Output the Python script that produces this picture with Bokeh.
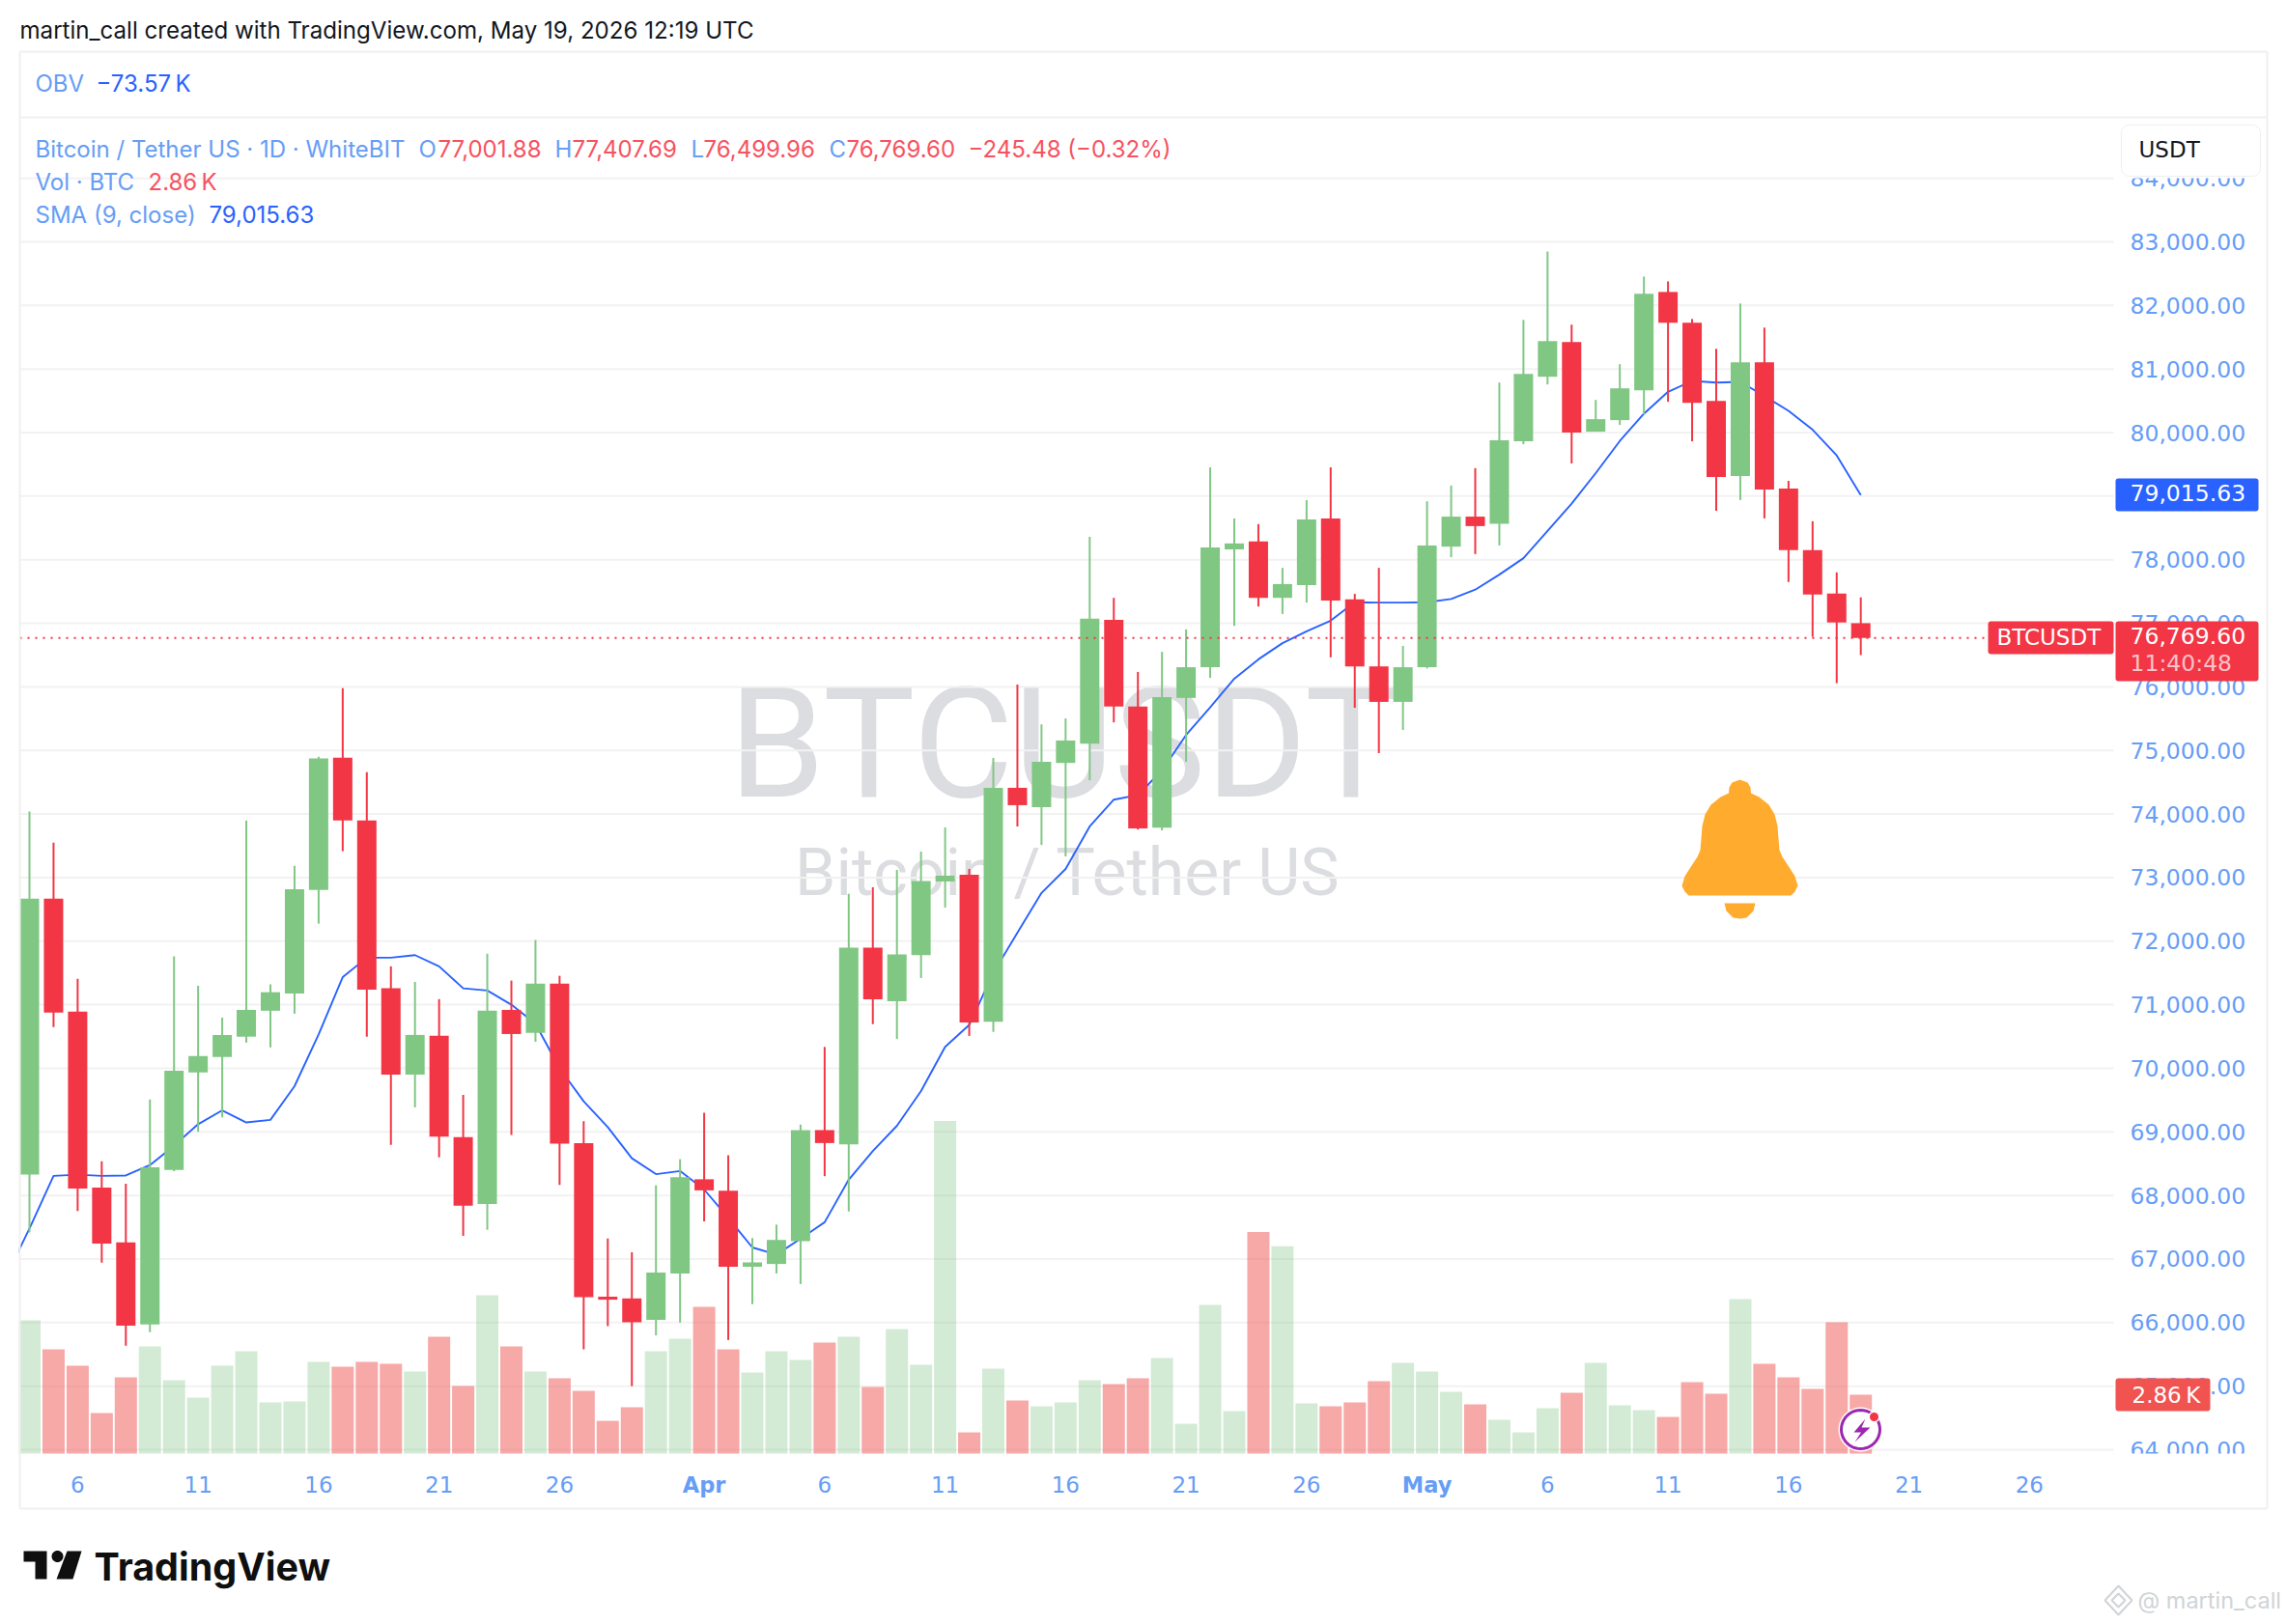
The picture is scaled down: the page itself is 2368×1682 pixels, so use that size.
import math
from bokeh.plotting import figure
from bokeh.models import (ColumnDataSource, FixedTicker, LinearAxis, NumeralTickFormatter, Label,
                          BoxAnnotation, PolyAnnotation, Range1d)
from bokeh.embed import file_html
from bokeh.resources import INLINE

# ---- data (daily BTC/USDT candles, Mar 4 .. May 19) ----
opens = [68327,72669,70892,68124,67262,65970,68402,69935,70179,70498,70905,71177,72805,74887,73897,71258,69901,70512,68917,67866,
         70919,70559,71333,68823,66407,66380,66041,66773,68254,68074,66878,66922,67281,69028,68805,71897,71055,71779,72939,73046,
         70732,74412,74108,74803,75106,77053,75689,73786,75826,76309,78163,78287,77400,77599,78647,77376,76322,75764,76309,78206,
         78678,78564,79863,80878,81424,80014,80196,80666,82212,81727,80499,79317,81105,79120,78150,77468,77001.88]
highs = [74039,73551,71407,68538,68185,69508,71760,71299,70797,73897,71319,73185,74901,75980,74657,71604,71360,71088,69582,71801,
         71380,72018,71455,69168,67323,67106,68161,68570,69301,68632,67331,67541,69115,70336,72746,72848,73121,73410,73789,73137,
         74882,76036,75410,75503,78361,77400,76235,76551,76904,79453,78647,78560,77872,78938,79453,77462,77872,76644,78919,79167,
         79440,80787,81772,82848,81697,80514,81075,82454,82378,81787,81318,82030,81651,79241,78605,77801,77407.69]
lows = [67418,70647,67757,66943,65635,65850,68380,68999,69230,70403,70329,70858,72276,73415,70498,68795,69386,68599,67364,67459,
        68951,70417,68165,65579,65944,65000,65800,65999,67591,65726,66290,66773,66606,68303,67746,70695,70460,71420,72529,70509,
        70574,73804,73513,73333,74530,75441,73755,73742,74821,76142,76960,77264,77146,77326,76464,75671,74958,75323,76290,78039,
        78089,78225,79817,80757,79514,80120,80120,80287,80484,79863,78771,78938,78650,77650,76786,76058,76499.96]
closes = [72669,70878,68110,67242,65953,68443,69962,70193,70525,70919,71197,72818,74874,73897,71238,69901,70525,68924,67839,70905,
          70539,71333,68816,66400,66360,66005,66787,68285,68080,66878,66947,67300,69028,68824,71897,71085,71792,72944,73030,70720,
          74412,74139,74821,75156,77072,75689,73773,75838,76309,78194,78256,77400,77617,78634,77357,76322,75764,76309,78225,78678,
          78529,79878,80924,81439,79999,80211,80696,82182,81727,80469,79302,81105,79105,78150,77453,77013,76769.60]
volumes = [6.47,5.06,4.27,1.97,3.70,5.20,3.56,2.72,4.27,4.97,2.48,2.53,4.45,4.22,4.45,4.36,3.99,5.67,3.28,7.69,
           5.20,3.99,3.66,3.05,1.59,2.25,4.97,5.58,7.13,5.06,3.94,4.97,4.55,5.39,5.67,3.24,6.05,4.31,16.15,1.03,
           4.13,2.58,2.30,2.48,3.56,3.38,3.66,4.64,1.45,7.22,2.06,10.76,10.07,2.44,2.30,2.48,3.52,4.41,3.99,3.00,
           2.39,1.64,1.03,2.20,2.95,4.41,2.34,2.11,1.78,3.47,2.91,7.50,4.36,3.70,3.14,6.38,2.86]
# SMA 9; the first value belongs to the day before the first visible candle
sma = [66699,67479,68307,68327,68307,68314,68477,68782,69121,69338,69148,69189,69718,70532,71434,71740,71740,71780,71604,71258,71224,
       71000,70702,70000,69481,69074,68585,68335,68384,68093,67647,67182,67070,67318,67579,68248,68700,69096,69642,70336,70683,
       71501,72133,72758,73135,73804,74226,74300,74685,75243,75677,76129,76433,76687,76873,77041,77332,77326,77326,77332,77382,
       77529,77766,78024,78453,78883,79363,79868,80297,80641,80813,80787,80797,80575,80343,80045,79641,79015.63]
price_ticks = [64000 + 1000 * i for i in range(21)]
date_tick_pos = [2, 7, 12, 17, 22, 28, 33, 38, 43, 48, 53, 58, 63, 68, 73, 78, 83]
date_tick_txt = ["6", "11", "16", "21", "26", "Apr", "6", "11", "16", "21", "26", "May", "6", "11", "16", "21", "26"]
last_price = 76769.60

GREEN, RED = "#81C784", "#F23645"
AXIS_BLUE, LEG_BLUE, BLUE = "#669DF6", "#669DF6", "#2962FF"
GRID = "#F2F2F2"
FONT = "Inter"
SCALE_FONT = "DejaVu Sans"
SCALE_SIZE = 23.5

# ---- the frame fills the canvas; the pane is placed inside it, in reference pixels ----
W, H = 2368, 1682
FL, FR, FT, FB = 20, 2188, 121, 1505
PX = 24.95                 # pixels per day
PXV = 1251 / 19000         # pixels per USDT
VPX = 61 / 2.86            # pixels per thousand BTC
pane_left = (FL - 30) / PX
pane_right = (FR - 30) / PX
pane_bottom = 83000 - (FB - 250) / PXV

p = figure(width=W, height=H, output_backend="svg", toolbar_location=None,
           x_range=Range1d((0 - 30) / PX, (W - 30) / PX),
           y_range=Range1d(83000 - (H - 250) / PXV, 83000 + 250 / PXV),
           x_axis_location=None, y_axis_location=None,
           min_border=0, outline_line_color=None, background_fill_color="white", border_fill_color="white")
p.xgrid.visible = False
p.ygrid.visible = False

UNITS = "canvas"

def txt(x, y, s, color=LEG_BLUE, size=24, align="left", bold=False, font=FONT, level="annotation"):
    p.add_layout(Label(x=x, y=y, x_units=UNITS, y_units=UNITS, text=s, text_color=color,
                       text_font_size=f"{size}px", text_font=font, text_align=align, text_baseline="middle",
                       text_font_style="bold" if bold else "normal", level=level))

def box(l, r, t, b, color, line=None, radius=0):
    p.add_layout(BoxAnnotation(left=l, right=r, top=t, bottom=b,
                               left_units=UNITS, right_units=UNITS, top_units=UNITS, bottom_units=UNITS,
                               fill_color=color, fill_alpha=1.0, line_color=line, line_alpha=1.0 if line else 0.0,
                               border_radius=radius, editable=False))

def poly(pts, color, line=None, lw=1):
    p.add_layout(PolyAnnotation(xs=[a for a, _ in pts], ys=[b for _, b in pts],
                                xs_units=UNITS, ys_units=UNITS, fill_color=color, fill_alpha=1.0,
                                line_color=line, line_width=lw, line_alpha=1.0 if line else 0.0))

# symbol watermark under everything
txt(1100, 770, "BTCUSDT", "#DCDDE0", 160, "center", font="Roboto", level="underlay")
txt(1105, 903, "Bitcoin / Tether US", "#DCDDE0", 68, "center", font="Roboto", level="underlay")

# horizontal price grid, confined to the pane
p.segment(x0=pane_left, x1=pane_right, y0=price_ticks, y1=price_ticks, line_color=GRID, line_width=2)

# ---- volume on its own scale, sharing the pane ----
idx = list(range(len(closes)))
up = [c >= o for o, c in zip(opens, closes)]
body_col = [GREEN if u else RED for u in up]
vol_col = ["#81C784" if u else "#EF5350" for u in up]
vol_alpha = [0.35 if u else 0.5 for u in up]
src = ColumnDataSource(dict(x=idx, o=opens, h=highs, l=lows, c=closes, v=volumes, col=body_col,
                            vcol=vol_col, va=vol_alpha,
                            top=[max(a, b) for a, b in zip(opens, closes)],
                            bot=[min(a, b) for a, b in zip(opens, closes)]))
p.extra_y_ranges["vol"] = Range1d(-(H - FB) / VPX, FB / VPX)
p.vbar(x="x", width=23 / PX, bottom=0, top="v", source=src, y_range_name="vol",
       fill_color="vcol", fill_alpha="va", line_color=None)

# ---- SMA and candles ----
p.line([i - 1 for i in range(len(sma))], sma, line_color=BLUE, line_width=1.9)
p.segment(x0="x", x1="x", y0="l", y1="h", source=src, line_color="col", line_width=2)
p.vbar(x="x", width=20 / PX, bottom="bot", top="top", source=src, fill_color="col", line_color=None)
p.segment(x0=pane_left, x1=pane_right, y0=last_price, y1=last_price, line_color=RED, line_width=2, line_dash="2 6")

# ---- real axes, pinned to the pane edges ----
ax_r = LinearAxis(ticker=FixedTicker(ticks=price_ticks), formatter=NumeralTickFormatter(format="0,0.00"),
                  fixed_location=pane_right)
ax_r.axis_line_color = None
ax_r.major_tick_line_color = None
ax_r.minor_tick_line_color = None
ax_r.major_tick_out = 0
ax_r.major_tick_in = 0
ax_r.major_label_text_color = AXIS_BLUE
ax_r.major_label_text_font = SCALE_FONT
ax_r.major_label_text_font_size = f"{SCALE_SIZE}px"
ax_r.major_label_standoff = 17
p.add_layout(ax_r, "right")

plain = {a: b for a, b in zip(date_tick_pos, date_tick_txt) if b not in ("Apr", "May")}
plain.update({a: " " for a, b in zip(date_tick_pos, date_tick_txt) if b in ("Apr", "May")})
ax_b = LinearAxis(ticker=FixedTicker(ticks=date_tick_pos), major_label_overrides=plain,
                  fixed_location=pane_bottom)
ax_b.axis_line_color = None
ax_b.major_tick_line_color = None
ax_b.minor_tick_line_color = None
ax_b.major_tick_out = 0
ax_b.major_tick_in = 0
ax_b.major_label_text_color = AXIS_BLUE
ax_b.major_label_text_font = SCALE_FONT
ax_b.major_label_text_font_size = "23px"
ax_b.major_label_standoff = 19
p.add_layout(ax_b, "below")
for a, b in zip(date_tick_pos, date_tick_txt):
    if b in ("Apr", "May"):
        txt(30 + a * PX, 1537, b, AXIS_BLUE, 22.5, "center", bold=True, font=SCALE_FONT)

# ---- masks keeping marks and labels inside their panes ----
box(0, 19, FT, FB, "white")
box(2189, 2345, 122, 184, "white")
box(2189, 2345, FB, 1560, "white")

# ---- frame lines ----
LINE = "#F0F0F0"
box(20, 2347, 52, 54, LINE)
box(20, 2347, 120, 122, LINE)
box(20, 2347, 1561, 1563, LINE)
box(19, 21, 53, 1562, LINE)
box(2346, 2348, 53, 1562, LINE)

# ---- price scale labels ----
box(2196, 2340, 129, 182, "white", line="#EFEFEF", radius=8)
txt(2214, 154, "USDT", "#131722", 23, font=SCALE_FONT)
box(2190, 2338, 495, 529, BLUE, radius=3)
txt(2205, 510, "79,015.63", "white", SCALE_SIZE, font=SCALE_FONT)
box(2058, 2188, 643, 677, RED, radius=3)
txt(2067, 659, "BTCUSDT", "white", 23, font=SCALE_FONT)
box(2190, 2338, 643, 705, RED, radius=3)
txt(2205, 658, "76,769.60", "white", SCALE_SIZE, font=SCALE_FONT)
txt(2205, 686, "11:40:48", "#FBC2C7", SCALE_SIZE, font=SCALE_FONT)
box(2190, 2288, 1427, 1461, "#F05350", radius=3)
txt(2207, 1444, "2.86\u2009K", "white", 23, font=SCALE_FONT)

# ---- header and legend ----
txt(20, 31, "martin_call created with TradingView.com, May 19, 2026 12:19 UTC", "#131722", 24.1)
txt(36, 85.5, "OBV", LEG_BLUE)
txt(99, 85.5, "\u221273.57\u2009K", BLUE)
txt(36, 153.5, "Bitcoin / Tether US \u00b7 1D \u00b7 WhiteBIT", LEG_BLUE)
LEGRED = "#F7525F"
for lx, ltr, vx, val in [(433, "O", 453, "77,001.88"), (574, "H", 592, "77,407.69"),
                         (715, "L", 728, "76,499.96"), (858, "C", 876, "76,769.60")]:
    txt(lx, 153.5, ltr, LEG_BLUE)
    txt(vx, 153.5, val, LEGRED)
txt(1002, 153.5, "\u2212245.48 (\u22120.32%)", LEGRED)
txt(36, 187.5, "Vol \u00b7 BTC", LEG_BLUE)
txt(153, 187.5, "2.86\u2009K", LEGRED)
txt(36, 221.5, "SMA (9, close)", LEG_BLUE)
txt(216, 221.5, "79,015.63", BLUE)

# ---- bell ----
half = [(0, 807), (-8, 810), (-11, 815), (-11.5, 821), (-20, 825), (-30, 833), (-36, 843), (-39, 855), (-40, 868),
        (-41, 880), (-44, 887), (-48, 893), (-57, 907), (-60, 917), (-57, 923), (-53, 927)]
CX = 1801
BELL = "#FFAB2E"
poly([(CX + a, b) for a, b in half] + [(CX - a, b) for a, b in reversed(half)], BELL)
poly([(1785, 935), (1817, 935), (1815, 943), (1808, 950), (1801, 951), (1794, 950), (1787, 943)], BELL)

# ---- alert badge ----
def ring(cx, cy, r, n=40):
    return [(cx + r * math.cos(2 * math.pi * k / n), cy + r * math.sin(2 * math.pi * k / n)) for k in range(n)]
poly(ring(1926, 1480, 23), "white")
poly(ring(1926, 1480, 20), "white", line="#9C27B0", lw=3)
poly([(1931, 1469), (1919, 1483), (1926.5, 1483), (1920, 1493), (1936, 1478), (1927, 1478)], "#9C27B0")
poly(ring(1940, 1467, 6), "white")
poly(ring(1940, 1467, 4.5), RED)

# ---- TradingView logo ----
LOGO = "#0F0F0F"
poly([(24, 1606), (48, 1606), (48, 1635), (36, 1635), (36, 1617), (24, 1617)], LOGO)
poly(ring(59, 1611.5, 6), LOGO)
poly([(69, 1606), (84, 1606), (75, 1635), (58, 1635)], LOGO)
txt(97, 1622, "TradingView", LOGO, 39.5, bold=True)

# ---- page watermark ----
WM = "#D0D4D7"
poly([(2193, 1642), (2207, 1657), (2193, 1672), (2179, 1657)], "white", line=WM, lw=2)
poly([(2193, 1650), (2200, 1657), (2193, 1664), (2186, 1657)], "white", line=WM, lw=2)
txt(2213, 1657, "@ martin_call", WM, 23.5)

open("out.html", "w").write(file_html(p, INLINE))
